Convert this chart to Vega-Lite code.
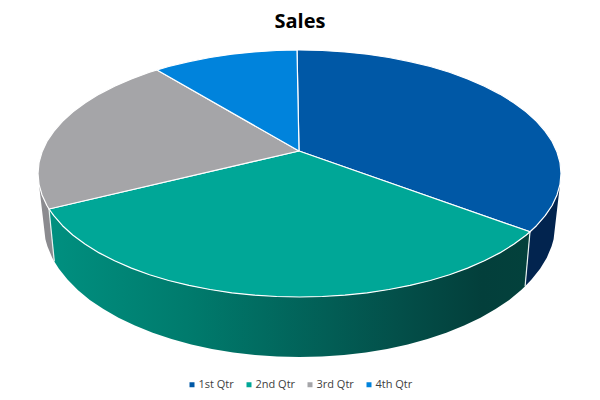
{
  "$schema": "https://vega.github.io/schema/vega-lite/v6.json",
  "width": 600,
  "height": 364,
  "padding": {"top": 12, "left": 0, "right": 0, "bottom": 0},
  "autosize": {"type": "pad", "contains": "padding"},
  "background": "white",
  "title": {"text": "Sales", "font": "Open Sans", "fontSize": 20, "fontWeight": "bold", "color": "#000000", "anchor": "middle", "offset": 4, "frame": "group"},
  "datasets": {
    "slices": [
      {"quarter":"1st Qtr","x":299,"y":151},{"quarter":"1st Qtr","x":297,"y":50},{"quarter":"1st Qtr","x":299.5,"y":50},{"quarter":"1st Qtr","x":322.3,"y":50.5},{"quarter":"1st Qtr","x":344.9,"y":51.9},{"quarter":"1st Qtr","x":367.2,"y":54.2},{"quarter":"1st Qtr","x":388.9,"y":57.5},{"quarter":"1st Qtr","x":410,"y":61.6},{"quarter":"1st Qtr","x":430.3,"y":66.5},{"quarter":"1st Qtr","x":449.5,"y":72.3},{"quarter":"1st Qtr","x":467.6,"y":78.9},{"quarter":"1st Qtr","x":484.4,"y":86.2},{"quarter":"1st Qtr","x":499.8,"y":94.1},{"quarter":"1st Qtr","x":513.7,"y":102.7},{"quarter":"1st Qtr","x":526,"y":111.8},{"quarter":"1st Qtr","x":536.5,"y":121.3},{"quarter":"1st Qtr","x":545.2,"y":131.3},{"quarter":"1st Qtr","x":552.1,"y":141.5},{"quarter":"1st Qtr","x":557,"y":152.1},{"quarter":"1st Qtr","x":560,"y":162.7},{"quarter":"1st Qtr","x":561,"y":173.5},{"quarter":"1st Qtr","x":560,"y":184.3},{"quarter":"1st Qtr","x":557,"y":194.9},{"quarter":"1st Qtr","x":552.1,"y":205.5},{"quarter":"1st Qtr","x":545.2,"y":215.7},{"quarter":"1st Qtr","x":536.5,"y":225.7},{"quarter":"1st Qtr","x":530,"y":231.8},{"quarter":"1st Qtr","x":299,"y":151},
      {"quarter":"2nd Qtr","x":299,"y":151},{"quarter":"2nd Qtr","x":530,"y":231.8},{"quarter":"2nd Qtr","x":526,"y":235.3},{"quarter":"2nd Qtr","x":513.7,"y":244.3},{"quarter":"2nd Qtr","x":499.8,"y":252.9},{"quarter":"2nd Qtr","x":484.4,"y":260.8},{"quarter":"2nd Qtr","x":467.6,"y":268.1},{"quarter":"2nd Qtr","x":449.5,"y":274.7},{"quarter":"2nd Qtr","x":430.3,"y":280.5},{"quarter":"2nd Qtr","x":410,"y":285.4},{"quarter":"2nd Qtr","x":388.9,"y":289.5},{"quarter":"2nd Qtr","x":367.2,"y":292.8},{"quarter":"2nd Qtr","x":344.9,"y":295.1},{"quarter":"2nd Qtr","x":322.3,"y":296.5},{"quarter":"2nd Qtr","x":299.5,"y":297},{"quarter":"2nd Qtr","x":276.7,"y":296.5},{"quarter":"2nd Qtr","x":254.1,"y":295.1},{"quarter":"2nd Qtr","x":231.8,"y":292.8},{"quarter":"2nd Qtr","x":210.1,"y":289.5},{"quarter":"2nd Qtr","x":189,"y":285.4},{"quarter":"2nd Qtr","x":168.7,"y":280.5},{"quarter":"2nd Qtr","x":149.5,"y":274.7},{"quarter":"2nd Qtr","x":131.4,"y":268.1},{"quarter":"2nd Qtr","x":114.6,"y":260.8},{"quarter":"2nd Qtr","x":99.2,"y":252.9},{"quarter":"2nd Qtr","x":85.3,"y":244.3},{"quarter":"2nd Qtr","x":73,"y":235.3},{"quarter":"2nd Qtr","x":62.5,"y":225.7},{"quarter":"2nd Qtr","x":53.8,"y":215.7},{"quarter":"2nd Qtr","x":49,"y":209},{"quarter":"2nd Qtr","x":299,"y":151},
      {"quarter":"3rd Qtr","x":299,"y":151},{"quarter":"3rd Qtr","x":49,"y":209},{"quarter":"3rd Qtr","x":46.9,"y":205.5},{"quarter":"3rd Qtr","x":42,"y":194.9},{"quarter":"3rd Qtr","x":39,"y":184.3},{"quarter":"3rd Qtr","x":38,"y":173.5},{"quarter":"3rd Qtr","x":39,"y":162.7},{"quarter":"3rd Qtr","x":42,"y":152.1},{"quarter":"3rd Qtr","x":46.9,"y":141.5},{"quarter":"3rd Qtr","x":53.8,"y":131.3},{"quarter":"3rd Qtr","x":62.5,"y":121.3},{"quarter":"3rd Qtr","x":73,"y":111.8},{"quarter":"3rd Qtr","x":85.3,"y":102.7},{"quarter":"3rd Qtr","x":99.2,"y":94.1},{"quarter":"3rd Qtr","x":114.6,"y":86.2},{"quarter":"3rd Qtr","x":131.4,"y":78.9},{"quarter":"3rd Qtr","x":149.5,"y":72.3},{"quarter":"3rd Qtr","x":157,"y":70},{"quarter":"3rd Qtr","x":299,"y":151},
      {"quarter":"4th Qtr","x":299,"y":151},{"quarter":"4th Qtr","x":157,"y":70},{"quarter":"4th Qtr","x":168.7,"y":66.5},{"quarter":"4th Qtr","x":189,"y":61.6},{"quarter":"4th Qtr","x":210.1,"y":57.5},{"quarter":"4th Qtr","x":231.8,"y":54.2},{"quarter":"4th Qtr","x":254.1,"y":51.9},{"quarter":"4th Qtr","x":276.7,"y":50.5},{"quarter":"4th Qtr","x":297,"y":50},{"quarter":"4th Qtr","x":299,"y":151}
    ],
    "wall1": [
      {"x":560,"y":184.3},{"x":557,"y":194.9},{"x":552.1,"y":205.5},{"x":545.2,"y":215.7},{"x":536.5,"y":225.7},{"x":530,"y":231.8},{"x":525.1,"y":286.3},{"x":531.5,"y":279.6},{"x":540.1,"y":268.8},{"x":546.8,"y":257.7},{"x":551.6,"y":246.3},{"x":553.6,"y":239.3}
    ],
    "wall2": [
      {"x":530,"y":231.8},{"x":526,"y":235.3},{"x":513.7,"y":244.3},{"x":499.8,"y":252.9},{"x":484.4,"y":260.8},{"x":467.6,"y":268.1},{"x":449.5,"y":274.7},{"x":430.3,"y":280.5},{"x":410,"y":285.4},{"x":388.9,"y":289.5},{"x":367.2,"y":292.8},{"x":344.9,"y":295.1},{"x":322.3,"y":296.5},{"x":299.5,"y":297},{"x":276.7,"y":296.5},{"x":254.1,"y":295.1},{"x":231.8,"y":292.8},{"x":210.1,"y":289.5},{"x":189,"y":285.4},{"x":168.7,"y":280.5},{"x":149.5,"y":274.7},{"x":131.4,"y":268.1},{"x":114.6,"y":260.8},{"x":99.2,"y":252.9},{"x":85.3,"y":244.3},{"x":73,"y":235.3},{"x":62.5,"y":225.7},{"x":53.8,"y":215.7},{"x":49,"y":209},
      {"x":54.3,"y":261.4},{"x":58.9,"y":268.8},{"x":67.5,"y":279.6},{"x":77.8,"y":290},{"x":89.8,"y":299.9},{"x":103.4,"y":309.1},{"x":118.5,"y":317.8},{"x":134.9,"y":325.6},{"x":152.7,"y":332.8},{"x":171.5,"y":339},{"x":191.3,"y":344.4},{"x":211.9,"y":348.9},{"x":233.2,"y":352.4},{"x":255,"y":355},{"x":277.2,"y":356.5},{"x":299.5,"y":357},{"x":321.8,"y":356.5},{"x":344,"y":355},{"x":365.8,"y":352.4},{"x":387.1,"y":348.9},{"x":407.7,"y":344.4},{"x":427.5,"y":339},{"x":446.3,"y":332.8},{"x":464.1,"y":325.6},{"x":480.5,"y":317.8},{"x":495.6,"y":309.1},{"x":509.2,"y":299.9},{"x":521.2,"y":290},{"x":525.1,"y":286.3}
    ],
    "wall3": [
      {"x":49,"y":209},{"x":46.9,"y":205.5},{"x":42,"y":194.9},{"x":39,"y":184.3},{"x":45.4,"y":239.3},{"x":47.4,"y":246.3},{"x":52.2,"y":257.7},{"x":54.3,"y":261.4}
    ],
    "seams": [
      {"seam":"left","x":49,"y":209},{"seam":"left","x":54.3,"y":261.4},
      {"seam":"right","x":530,"y":231.8},{"seam":"right","x":525.1,"y":286.3}
    ]
  },
  "encoding": {
    "x": {"field": "x", "type": "quantitative", "axis": null, "scale": {"domain": [0, 600], "nice": false, "zero": false}},
    "y": {"field": "y", "type": "quantitative", "axis": null, "scale": {"domain": [400, 36], "nice": false, "zero": false}},
    "order": {"field": "i", "type": "quantitative"}
  },
  "layer": [
    {
      "data": {"name": "wall3"},
      "transform": [{"window": [{"op": "row_number", "as": "i"}]}],
      "mark": {"type": "line", "strokeWidth": 0, "fill": "#8b8b8f"}
    },
    {
      "data": {"name": "wall1"},
      "transform": [{"window": [{"op": "row_number", "as": "i"}]}],
      "mark": {"type": "line", "strokeWidth": 0, "fill": "#02244f"}
    },
    {
      "data": {"name": "wall2"},
      "transform": [{"window": [{"op": "row_number", "as": "i"}]}],
      "mark": {
        "type": "line",
        "strokeWidth": 0,
        "fill": {
          "gradient": "linear", "x1": 0, "y1": 0, "x2": 1, "y2": 0,
          "stops": [
            {"offset": 0, "color": "#009080"},
            {"offset": 0.3, "color": "#007a6c"},
            {"offset": 0.72, "color": "#03504a"},
            {"offset": 0.9, "color": "#033f3b"},
            {"offset": 1, "color": "#03413c"}
          ]
        }
      }
    },
    {
      "data": {"name": "seams"},
      "transform": [{"window": [{"op": "row_number", "as": "i"}]}],
      "mark": {"type": "line", "stroke": "#e8f2f0", "strokeWidth": 1.2},
      "encoding": {"detail": {"field": "seam"}}
    },
    {
      "data": {"name": "slices"},
      "transform": [{"window": [{"op": "row_number", "as": "i"}]}],
      "mark": {"type": "line", "stroke": "#ffffff", "strokeWidth": 1.2, "strokeJoin": "round"},
      "encoding": {
        "fill": {
          "field": "quarter",
          "type": "nominal",
          "scale": {"domain": ["1st Qtr", "2nd Qtr", "3rd Qtr", "4th Qtr"], "range": ["#0058a6", "#00a797", "#a5a5a8", "#0083dc"]},
          "legend": {
            "title": null,
            "orient": "none",
            "direction": "horizontal",
            "legendX": 186.5,
            "legendY": 343,
            "symbolType": "square",
            "symbolSize": 25,
            "symbolStrokeWidth": 0,
            "columnPadding": 9,
            "labelOffset": 1,
            "labelFont": "Open Sans",
            "labelFontSize": 11,
            "labelColor": "#404040"
          }
        }
      }
    }
  ],
  "config": {"view": {"stroke": null}}
}
